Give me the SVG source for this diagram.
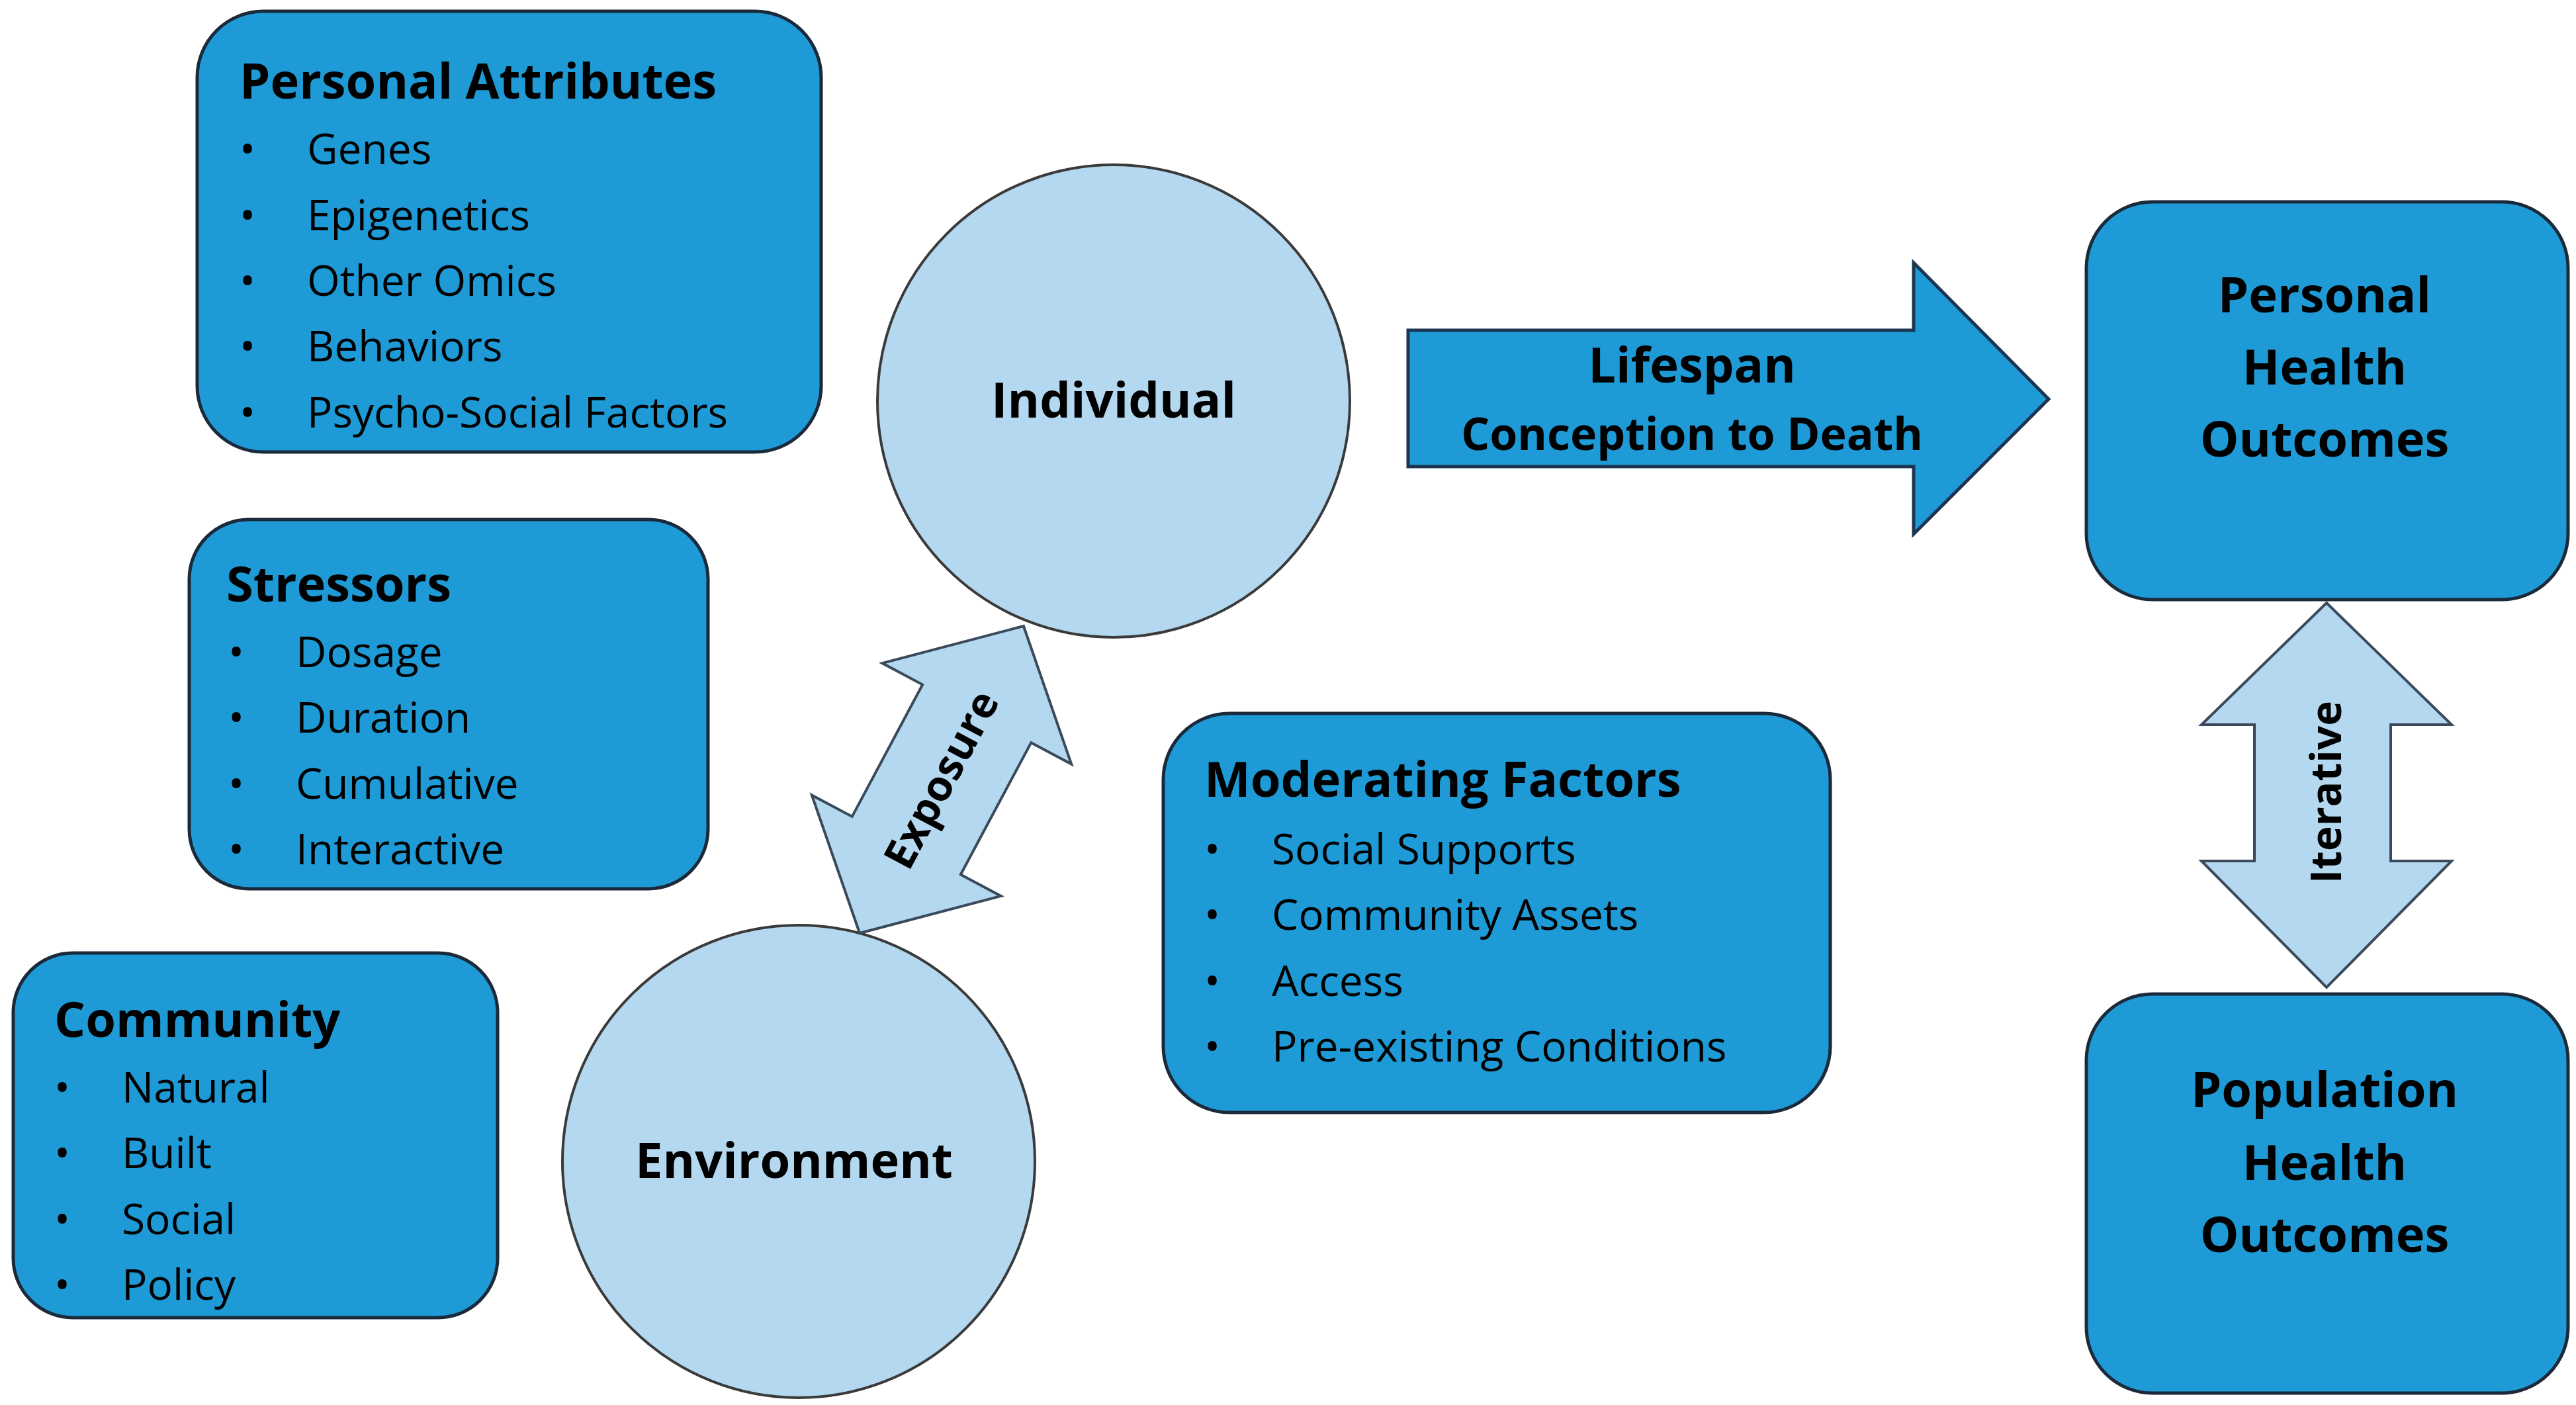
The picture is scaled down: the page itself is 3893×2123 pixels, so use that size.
<svg xmlns="http://www.w3.org/2000/svg" width="3893" height="2123" viewBox="0 0 3893 2123">
<style>
.box{fill:#1E9BD7;stroke:#1B2A3A;stroke-width:5}
.circ{fill:#B4D8EF;stroke:#3A3A3A;stroke-width:4}
.arr{fill:#1E9BD7;stroke:#1B3550;stroke-width:5}
.arrl{fill:#B4D8EF;stroke:#3A4A5A;stroke-width:4}
text{font-family:"Open Sans","Liberation Sans",sans-serif;fill:#000}
.t{font-size:74px;font-weight:bold}
.i{font-size:64px}
.c{text-anchor:middle}
</style>
<rect width="3893" height="2123" fill="#fff"/>
<g id="personal-attributes">
<rect class="box" x="298" y="17" width="943" height="666" rx="100"/>
<text class="t" x="362" y="149">Personal Attributes</text>
<g class="i"><text x="362" y="248">•</text><text x="464" y="248">Genes</text>
<text x="362" y="348">•</text><text x="464" y="348">Epigenetics</text>
<text x="362" y="447">•</text><text x="464" y="447">Other Omics</text>
<text x="362" y="546">•</text><text x="464" y="546">Behaviors</text>
<text x="362" y="646">•</text><text x="464" y="646">Psycho-Social Factors</text></g>
</g>
<g id="stressors">
<rect class="box" x="286" y="785" width="784" height="558" rx="90"/>
<text class="t" x="342" y="909">Stressors</text>
<g class="i"><text x="345" y="1008">•</text><text x="447" y="1008">Dosage</text>
<text x="345" y="1107">•</text><text x="447" y="1107">Duration</text>
<text x="345" y="1207">•</text><text x="447" y="1207">Cumulative</text>
<text x="345" y="1306">•</text><text x="447" y="1306">Interactive</text></g>
</g>
<g id="community">
<rect class="box" x="20" y="1440" width="732" height="551" rx="90"/>
<text class="t" x="82" y="1567">Community</text>
<g class="i"><text x="82" y="1666">•</text><text x="184" y="1666">Natural</text>
<text x="82" y="1765">•</text><text x="184" y="1765">Built</text>
<text x="82" y="1865">•</text><text x="184" y="1865">Social</text>
<text x="82" y="1964">•</text><text x="184" y="1964">Policy</text></g>
</g>
<g id="moderating-factors">
<rect class="box" x="1758" y="1078" width="1008" height="603" rx="100"/>
<text class="t" x="1820" y="1204">Moderating Factors</text>
<g class="i"><text x="1820" y="1306">•</text><text x="1922" y="1306">Social Supports</text>
<text x="1820" y="1405">•</text><text x="1922" y="1405">Community Assets</text>
<text x="1820" y="1505">•</text><text x="1922" y="1505">Access</text>
<text x="1820" y="1604">•</text><text x="1922" y="1604">Pre-existing Conditions</text></g>
</g>
<g id="individual">
<circle class="circ" cx="1683" cy="606" r="357"/>
<text class="t c" x="1683" y="631">Individual</text>
</g>
<g id="environment">
<circle class="circ" cx="1207" cy="1755" r="357"/>
<text class="t c" x="1200" y="1780">Environment</text>
</g>
<g id="personal-health">
<rect class="box" x="3153" y="305" width="728" height="601" rx="100"/>
<text class="t c" x="3513" y="472">Personal</text>
<text class="t c" x="3513" y="581">Health</text>
<text class="t c" x="3513" y="690">Outcomes</text>
</g>
<g id="population-health">
<rect class="box" x="3153" y="1502" width="728" height="603" rx="100"/>
<text class="t c" x="3513" y="1673">Population</text>
<text class="t c" x="3513" y="1783">Health</text>
<text class="t c" x="3513" y="1892">Outcomes</text>
</g>
<g id="connectors">
<g id="lifespan">
<polygon class="arr" points="2128,499 2892,499 2892,397 3096,603 2892,807 2892,705 2128,705"/>
<text class="t c" x="2557" y="578">Lifespan</text>
<text class="t c" x="2557" y="680" style="font-size:68px">Conception to Death</text>
</g>
<g id="iterative">
<polygon class="arrl" points="3516,911 3705,1095 3613,1095 3613,1301 3705,1301 3516,1492 3327,1301 3407,1301 3407,1095 3327,1095"/>
<text class="t c" transform="translate(3538,1197) rotate(-90)" x="0" y="0" style="font-size:64px">Iterative</text>
</g>
<g id="exposure" transform="translate(1423,1178) rotate(-61.9)">
<polygon class="arrl" points="-263,0 -113,-162 -113,-93 113,-93 113,-162 263,0 113,162 113,93 -113,93 -113,162"/>
<text class="t c" x="0" y="22" style="font-size:64px">Exposure</text>
</g>
</g>
</svg>
